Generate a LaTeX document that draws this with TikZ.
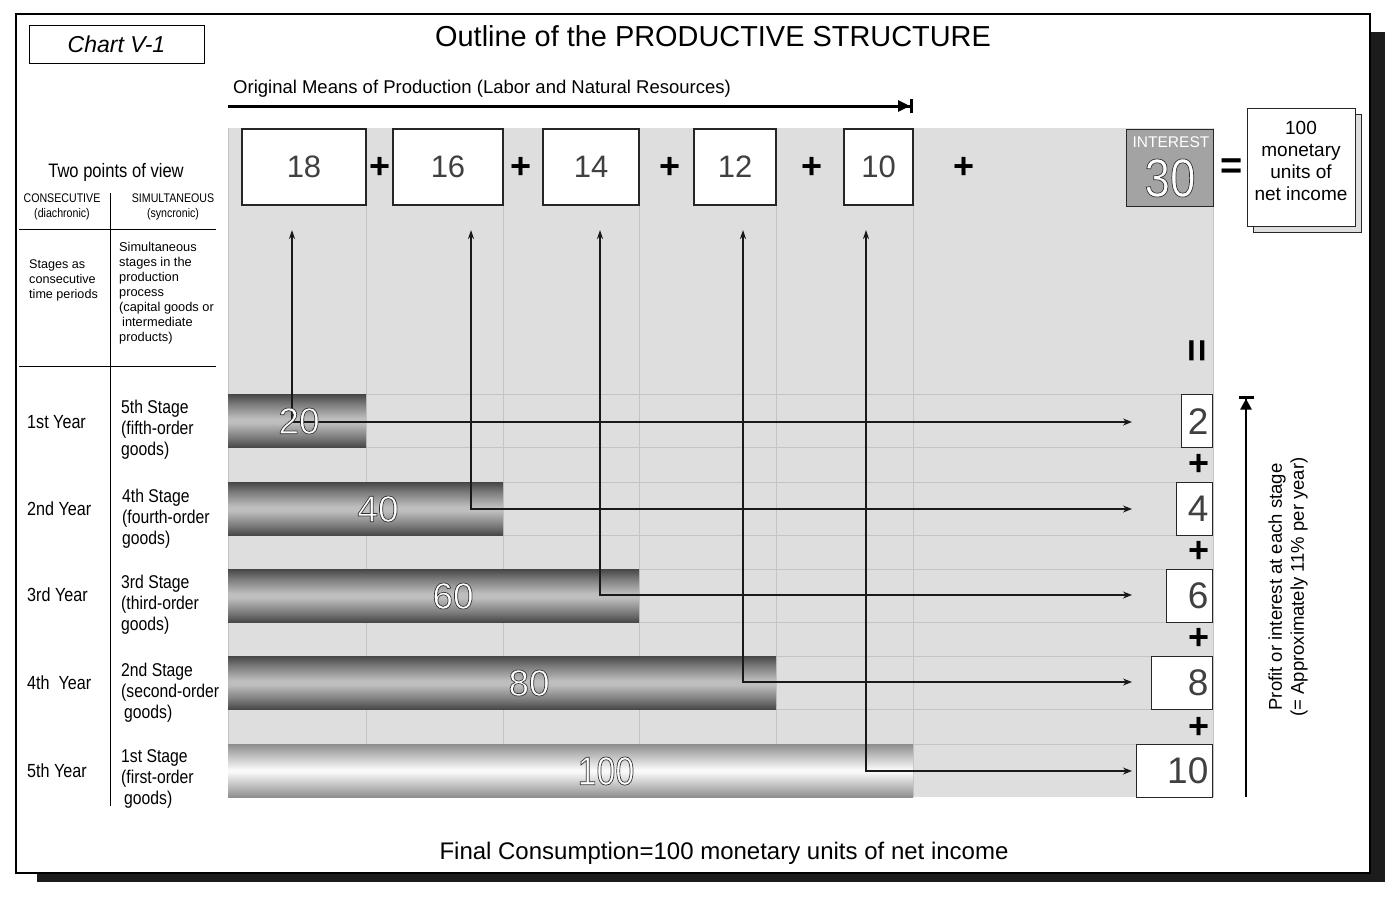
\documentclass[tikz,border=0pt]{standalone}
\usepackage{fontspec}
\setmainfont{Liberation Sans}
\newfontfamily\narrowfont[FakeStretch=0.85]{Liberation Sans}
\usetikzlibrary{arrows.meta}
\definecolor{graybg}{HTML}{DEDEDE}
\definecolor{gridc}{HTML}{C4C4C4}
\definecolor{numc}{HTML}{404040}
\definecolor{intc}{HTML}{A3A3A3}
\definecolor{shadowc}{HTML}{1C1C1C}
\definecolor{mA}{HTML}{474747}
\definecolor{mB}{HTML}{7A7A7A}
\definecolor{mC}{HTML}{BEBEBE}
\definecolor{lA}{HTML}{8E8E8E}
\definecolor{lB}{HTML}{C4C4C4}
\definecolor{lC}{HTML}{FAFAFA}
\pgfdeclareverticalshading{metaldark}{100bp}{color(0bp)=(mA); color(25bp)=(mA); color(34bp)=(mB); color(48bp)=(mC); color(52bp)=(mC); color(66bp)=(mB); color(75bp)=(mA); color(100bp)=(mA)}
\pgfdeclareverticalshading{metallight}{100bp}{color(0bp)=(lA); color(25bp)=(lA); color(37bp)=(lB); color(49bp)=(lC); color(51bp)=(lC); color(63bp)=(lB); color(75bp)=(lA); color(100bp)=(lA)}
\newcommand{\outl}[1]{\special{pdf:literal direct 1 g 0.2 G 2 Tr 0.7 w}#1\special{pdf:literal direct 0 Tr}}
\newcommand{\fsz}[2]{\fontsize{#1}{#2}\selectfont}
\begin{document}
\begin{tikzpicture}[x=1pt,y=-1pt,
  every node/.style={inner sep=0pt},
  numbox/.style={draw=black!85, line width=1.3pt, fill=white, text=numc, font=\fsz{31}{31}},
  plussign/.style={font=\fsz{36}{36}\bfseries},
  barbox/.style={anchor=north west, minimum height=53pt},
  rbox/.style={draw=black!85, line width=1.3pt, fill=white, text=numc, font=\fsz{37}{37}, align=right, inner xsep=4pt, minimum height=53pt, anchor=north east},
  conn/.style={line width=1.4pt, draw=black!90, {Stealth[length=9pt,width=6pt]}-{Stealth[length=9pt,width=7pt]}},
  bignum/.style={text=white, font=\fsz{37}{37}},
  yearlbl/.style={anchor=west, font=\narrowfont\fsz{19}{21}},
  stagelbl/.style={anchor=west, align=left, font=\narrowfont\fsz{18.5}{21}}
]
\useasboundingbox (0,0) rectangle (1395,898);
% frame with shadow
\fill[shadowc] (37,32) rectangle (1385,882);
\draw[line width=2pt, fill=white] (16,14) rectangle (1370,873);

% chart label and title
\node[draw, line width=1pt, minimum width=175pt, minimum height=38pt, font=\fsz{23}{27}\itshape] (chart) at (116.5,44) {Chart V-1};
\node[font=\fsz{28.9}{34}] (title) at (713,36) {Outline of the PRODUCTIVE STRUCTURE};
\node[anchor=west, font=\fsz{18.5}{22}] (orig) at (233,89) {Original Means of Production (Labor and Natural Resources)};
\coordinate (omA) at (228,106);
\coordinate (omB) at (913,106);
\draw[line width=3pt, -{Triangle[length=12pt,width=11pt]Bar[width=14pt]}] (omA) -- (omB);

% gray area and grid
\fill[graybg] (228,128) rectangle (1213,797);
\foreach \x in {228,366,503,639,776,913,1213} \draw[gridc, line width=1pt] (\x,128) -- (\x,797);
\foreach \y in {394,447,482,535,569,622,656,709,744} \draw[gridc, line width=1pt] (228,\y) -- (1213,\y);

% bars
\node[barbox, shading=metaldark, minimum width=138pt] (bar1) at (228,394) {};
\node[barbox, shading=metaldark, minimum width=275pt] (bar2) at (228,482) {};
\node[barbox, shading=metaldark, minimum width=411pt] (bar3) at (228,569) {};
\node[barbox, shading=metaldark, minimum width=548pt] (bar4) at (228,656) {};
\node[barbox, shading=metallight, minimum width=685pt] (bar5) at (228,744) {};

% top boxes
\node[numbox, minimum width=124pt, minimum height=76pt] (b18) at (304,167) {18};
\node[numbox, minimum width=110pt, minimum height=76pt] (b16) at (448,167) {16};
\node[numbox, minimum width=96pt, minimum height=76pt] (b14) at (591,167) {14};
\node[numbox, minimum width=82pt, minimum height=76pt] (b12) at (735,167) {12};
\node[numbox, minimum width=69pt, minimum height=76pt] (b10) at (878.5,167) {10};
\node[plussign] (p1) at (380,168) {+};
\node[plussign] (p2) at (521,168) {+};
\node[plussign] (p3) at (670,168) {+};
\node[plussign] (p4) at (812,168) {+};
\node[plussign] (p5) at (964,168) {+};

% interest box
\node[draw=black!85, line width=1.3pt, fill=intc, minimum width=87pt, minimum height=77pt, anchor=north west] (int) at (1126,129) {};
\node[text=white, font=\fsz{15.5}{16}] (intlab) at (1171,142) {INTEREST};
\node[font=\fsz{38}{38}\bfseries] (eq) at (1232,169) {=};

% net income box
\node[draw=black!85, line width=1pt, fill=black!13, minimum width=108pt, minimum height=118pt, anchor=north west] (nishadow) at (1253,114) {};
\node[draw=black!85, line width=1pt, fill=white, minimum width=108pt, minimum height=118pt, anchor=north west] (ni) at (1247,108) {};
\node[align=center, font=\fsz{19}{21.7}] (nitext) at (1301,161) {100\\monetary\\units of\\net income};

% vertical equals
\node[rotate=90, font=\fsz{40}{40}\bfseries] (veq) at (1200,351) {=};

% right boxes
\node[rbox, text width=23pt] (r2) at (1213,394) {2};
\node[rbox, text width=28pt] (r4) at (1213,482) {4};
\node[rbox, text width=38pt] (r6) at (1213,569) {6};
\node[rbox, text width=53pt] (r8) at (1213,656) {8};
\node[rbox, text width=68pt] (r10) at (1213,744) {10};
\node[plussign] (rp1) at (1199,465) {+};
\node[plussign] (rp2) at (1199,552) {+};
\node[plussign] (rp3) at (1199,639) {+};
\node[plussign] (rp4) at (1199,728) {+};

% profit arrow
\coordinate (pa) at (1246,797);
\coordinate (pb) at (1246,396);
\draw[line width=2.6pt, -{Triangle[length=11pt,width=11pt]Bar[width=15pt]}] (pa) -- (pb);
\node[rotate=90, align=center, font=\fsz{18.5}{22}] (profit) at (1288,587) {Profit or interest at each stage\\(= Approximately 11\% per year)};

% left column
\node[font=\narrowfont\fsz{19.5}{22}] (twopts) at (116,172) {Two points of view};
\node[align=center, font=\narrowfont\fsz{12.5}{15}] (consec) at (62,207) {CONSECUTIVE\\(diachronic)};
\node[align=center, font=\narrowfont\fsz{12.5}{15}] (simul) at (173,207) {SIMULTANEOUS\\(syncronic)};
\coordinate (hl1a) at (19,229); \coordinate (hl1b) at (216,229);
\coordinate (hl2a) at (19,366); \coordinate (hl2b) at (216,366);
\coordinate (vla) at (110,193); \coordinate (vlb) at (110,806);
\draw[line width=1pt] (hl1a) -- (hl1b);
\draw[line width=1pt] (hl2a) -- (hl2b);
\draw[line width=1pt] (vla) -- (vlb);
\node[anchor=west, align=left, font=\fsz{12.6}{15}] (stages) at (29,280) {Stages as\\consecutive\\time periods};
\node[anchor=west, align=left, font=\fsz{12.8}{15}] (simstages) at (119,293) {Simultaneous\\stages in the\\production\\process\\(capital goods or\\\hspace{3pt}intermediate\\products)};

\node[yearlbl] (y1) at (27,422) {1st Year};
\node[yearlbl] (y2) at (27,509) {2nd Year};
\node[yearlbl] (y3) at (27,595) {3rd Year};
\node[yearlbl] (y4) at (27,683) {4th\ \ Year};
\node[yearlbl] (y5) at (27,771) {5th Year};
\node[stagelbl] (s5) at (121,430) {5th Stage\\(fifth-order\\goods)};
\node[stagelbl] (s4) at (122,519) {4th Stage\\(fourth-order\\goods)};
\node[stagelbl] (s3) at (121,605) {3rd Stage\\(third-order\\goods)};
\node[stagelbl] (s2) at (121,693) {2nd Stage\\(second-order\\\hspace{3pt}goods)};
\node[stagelbl] (s1) at (121,779) {1st Stage\\(first-order\\\hspace{3pt}goods)};

% connectors
\coordinate (u1) at (292,230); \coordinate (r1c) at (1132,422);
\coordinate (u2) at (471,230); \coordinate (r2c) at (1132,509);
\coordinate (u3) at (600,230); \coordinate (r3c) at (1132,595);
\coordinate (u4) at (743,230); \coordinate (r4c) at (1132,682);
\coordinate (u5) at (866,230); \coordinate (r5c) at (1132,771);
\draw[conn] (u1) |- (r1c);
\draw[conn] (u2) |- (r2c);
\draw[conn] (u3) |- (r3c);
\draw[conn] (u4) |- (r4c);
\draw[conn] (u5) |- (r5c);

% final consumption
\node[font=\fsz{24}{28}] (final) at (724,853) {Final Consumption=100 monetary units of net income};

% outlined white numbers (drawn last)
\node[bignum] (n20) at (299,421) {\outl{20}};
\node[bignum] (n40) at (378,509) {\outl{40}};
\node[bignum] (n60) at (453,596) {\outl{60}};
\node[bignum] (n80) at (529,683) {\outl{80}};
\node[bignum, font=\narrowfont\fsz{40}{40}] (n100) at (606,771) {\outl{100}};
\node[text=white, font=\narrowfont\fsz{54}{54}] (int30) at (1170,178) {\outl{30}};
\end{tikzpicture}
\end{document}
